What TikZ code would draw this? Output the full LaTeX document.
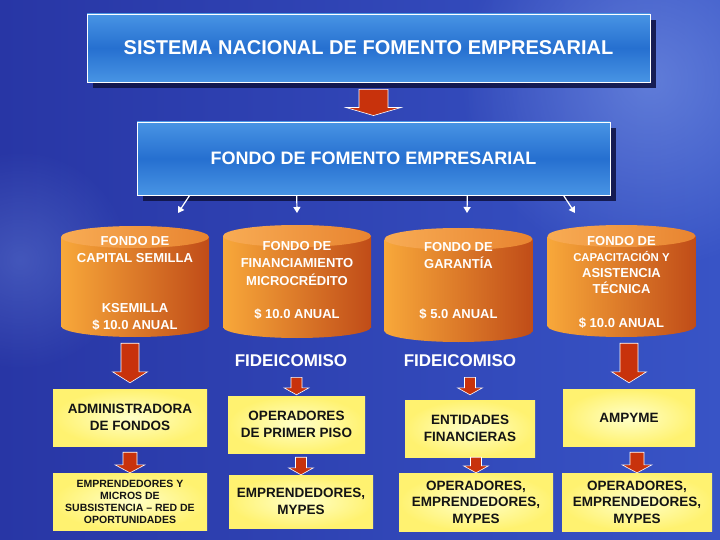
\documentclass[tikz,border=0pt]{standalone}
\usepackage{fontspec}
\setmainfont{Liberation Sans}
\usetikzlibrary{calc, shadows, fadings, arrows.meta}
\definecolor{bgdark}{RGB}{24,32,138}
\definecolor{bgleft}{RGB}{40,54,165}
\definecolor{bglight}{RGB}{56,84,198}
\definecolor{glow}{RGB}{130,160,235}
\definecolor{boxtop}{RGB}{72,148,228}
\definecolor{boxmid}{RGB}{38,112,208}
\definecolor{boxshadow}{RGB}{16,20,70}
\definecolor{cylleft}{RGB}{248,168,58}
\definecolor{cylmid}{RGB}{238,136,36}
\definecolor{cylright}{RGB}{192,76,24}
\definecolor{capleft}{RGB}{248,172,84}
\definecolor{capright}{RGB}{232,132,48}
\definecolor{arrowred}{RGB}{200,50,12}
\definecolor{yelin}{RGB}{255,255,200}
\definecolor{yelout}{RGB}{255,242,112}
\definecolor{inkdark}{RGB}{20,20,20}
\tikzfading[name=glowfade, inner color=transparent!0, outer color=transparent!100]

\newcommand{\fondocyl}[4]{%
  \shade[left color=cylleft, middle color=cylmid, right color=cylright] (#2-74,#3) rectangle (#2+74,#4);
  \shade[left color=cylleft, middle color=cylmid, right color=cylright] (#2,#4) ellipse [x radius=74pt, y radius=11pt];
  \shade[left color=capleft, right color=capright] (#2,#3) ellipse [x radius=74pt, y radius=11pt];
  \node[inner sep=0, minimum width=148pt, minimum height={(#4-#3+22)*1pt}] (#1) at (#2,{(#3+#4)/2}) {};
}
\newcommand{\redarrow}[7]{%
  \path[fill=arrowred, draw=white, line width=0.6pt]
    let \p1=(#1.south), \p2=(#2.north) in
    (\x2-#3,\y1-#6) -- (\x2+#3,\y1-#6) -- (\x2+#3,\y2+#7+#5) -- (\x2+#4,\y2+#7+#5)
    -- (\x2,\y2+#7) -- (\x2-#4,\y2+#7+#5) -- (\x2-#3,\y2+#7+#5) -- cycle;
}

\begin{document}
\begin{tikzpicture}[x=1pt, y=-1pt,
    bluebox/.style={rectangle, draw=white, line width=0.9pt, top color=boxtop, bottom color=boxtop, middle color=boxmid, text=white, drop shadow={shadow xshift=6pt, shadow yshift=-6pt, fill=boxshadow, opacity=0.9}},
    fundtext/.style={inner sep=0, align=center, text=white, font=\fontsize{13}{17}\selectfont\bfseries},
    fidtext/.style={inner sep=0, anchor=base, text=white, font=\fontsize{17}{20}\selectfont\bfseries},
    yellowbox/.style={rectangle, inner sep=2pt, inner color=yelin, outer color=yelout, align=center, text=inkdark, font=\fontsize{13.5}{17.5}\selectfont\bfseries},
    thinarrow/.style={draw=white, line width=1.2pt, -{Triangle[width=7pt, length=6pt]}},
]

\useasboundingbox (0,0) rectangle (720,540);
\shade[left color=bgleft, middle color=bgdark, right color=bglight] (0,0) rectangle (720,540);
\fill[glow, path fading=glowfade, opacity=0.55] (650,80) circle (190pt);
\fill[glow, path fading=glowfade, opacity=0.3] (20,260) circle (110pt);

\node[bluebox, minimum width=563pt, minimum height=68pt, font=\fontsize{20}{22}\selectfont\bfseries] (sys) at (368.5,48) {SISTEMA NACIONAL DE FOMENTO EMPRESARIAL};
\node[bluebox, minimum width=473pt, minimum height=73pt, font=\fontsize{18}{20}\selectfont\bfseries] (fondo) at (373.5,158.5) {FONDO DE FOMENTO EMPRESARIAL};

\redarrow{sys}{fondo}{14.5pt}{27.5pt}{8pt}{7pt}{6pt}

\coordinate (t1) at (178,213);
\coordinate (t2) at (297,213);
\coordinate (t3) at (467,213);
\coordinate (t4) at (575,213);
\draw[thinarrow] ($(fondo.south west)!0.112!(fondo.south east)$) -- (t1);
\draw[thinarrow] ($(fondo.south west)!0.338!(fondo.south east)$) -- (t2);
\draw[thinarrow] ($(fondo.south west)!0.698!(fondo.south east)$) -- (t3);
\draw[thinarrow] ($(fondo.south west)!0.901!(fondo.south east)$) -- (t4);

\fondocyl{capital}{135}{237}{326}
\fondocyl{micro}{297}{236}{327}
\fondocyl{garantia}{458.5}{239}{331}
\fondocyl{tecnica}{621.5}{236}{326}

\node[fundtext] (capitalname) at (135,249.5) {FONDO DE\\CAPITAL SEMILLA};
\node[fundtext] (capitalamount) at (135,317) {KSEMILLA\\\$ 10.0 ANUAL};
\node[fundtext, font=\fontsize{13}{17.5}\selectfont\bfseries] (microname) at (297,263.5) {FONDO DE\\FINANCIAMIENTO\\MICROCRÉDITO};
\node[fundtext] (microamount) at (297,314) {\$ 10.0 ANUAL};
\node[fundtext] (garantianame) at (458.5,255.5) {FONDO DE\\GARANTÍA};
\node[fundtext] (garantiaamount) at (458.5,314) {\$ 5.0 ANUAL};
\node[fundtext, font=\fontsize{13}{16}\selectfont\bfseries] (tecnicaname) at (621.5,265.5) {FONDO DE\\{\fontsize{11.4}{16}\selectfont CAPACITACIÓN Y}\\ASISTENCIA\\TÉCNICA};
\node[fundtext] (tecnicaamount) at (621.5,323) {\$ 10.0 ANUAL};

\node[fidtext] (fid1) at (291,366) {FIDEICOMISO};
\node[fidtext] (fid2) at (460,366) {FIDEICOMISO};

\node[yellowbox, minimum width=154pt, minimum height=57pt] (admin) at (130,417.5) {ADMINISTRADORA\\DE FONDOS};
\node[yellowbox, minimum width=154pt, minimum height=57pt, font=\fontsize{10.5}{12}\selectfont\bfseries] (red) at (130,501.5) {EMPRENDEDORES Y\\MICROS DE\\SUBSISTENCIA – RED DE\\OPORTUNIDADES};
\node[yellowbox, minimum width=137pt, minimum height=57pt] (piso) at (296.5,424.5) {OPERADORES\\DE PRIMER PISO};
\node[yellowbox, minimum width=144pt, minimum height=53pt] (mypes) at (301,501.5) {EMPRENDEDORES,\\MYPES};
\node[yellowbox, minimum width=130pt, minimum height=57pt] (entidades) at (470,428.5) {ENTIDADES\\FINANCIERAS};
\node[yellowbox, minimum width=154pt, minimum height=58pt, font=\fontsize{13.5}{16.5}\selectfont\bfseries] (opera) at (476,502) {OPERADORES,\\EMPRENDEDORES,\\MYPES};
\node[yellowbox, minimum width=132pt, minimum height=57pt] (ampyme) at (629,417.5) {AMPYME};
\node[yellowbox, minimum width=150pt, minimum height=58pt, font=\fontsize{13.5}{16.5}\selectfont\bfseries] (operb) at (637,502) {OPERADORES,\\EMPRENDEDORES,\\MYPES};

\redarrow{capital}{admin}{9pt}{17.5pt}{11pt}{6pt}{6pt}
\redarrow{tecnica}{ampyme}{9pt}{17.5pt}{11pt}{6pt}{6pt}
\redarrow{admin}{red}{7pt}{15pt}{8pt}{6pt}{0pt}
\redarrow{ampyme}{operb}{7pt}{15pt}{8pt}{6pt}{0pt}
\redarrow{fid1}{piso}{5.5pt}{12.5pt}{7pt}{11pt}{1pt}
\redarrow{piso}{mypes}{5.5pt}{12.5pt}{7pt}{4pt}{0pt}
\redarrow{fid2}{entidades}{5.5pt}{12.5pt}{7pt}{11pt}{5pt}
\redarrow{entidades}{opera}{5.5pt}{12.5pt}{7pt}{0pt}{0pt}

\end{tikzpicture}
\end{document}
